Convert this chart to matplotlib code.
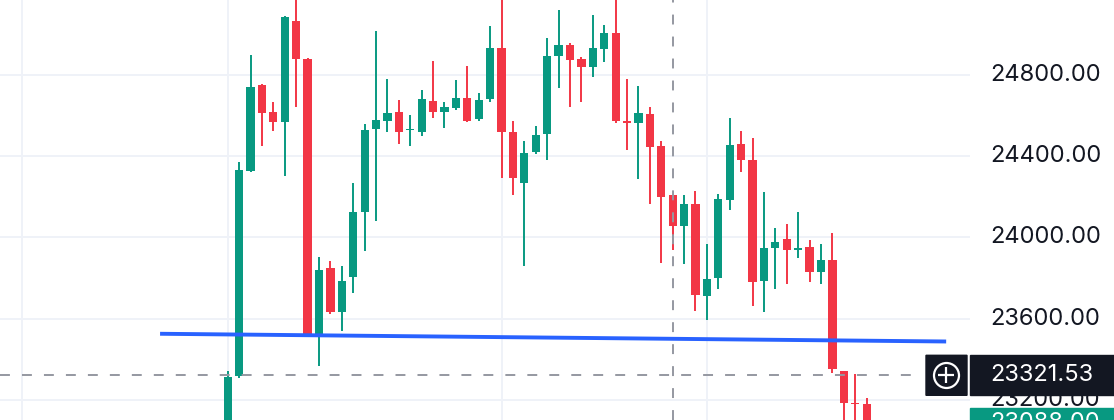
import matplotlib
matplotlib.use("Agg")
import matplotlib.pyplot as plt
import matplotlib.transforms as mtransforms
from matplotlib.patches import Rectangle, FancyBboxPatch

plt.rcParams['font.family'] = ['Inter', 'DejaVu Sans']

# candle data, one entry per bar
opens = [23080, 23320, 24327, 24751, 24616, 24570, 25066, 24877, 23520, 23848,
         23635, 23804, 24124, 24533, 24575, 24618, 24528, 24521, 24672, 24616,
         24636, 24685, 24583, 24682, 24931, 24518, 24267, 24422, 24508, 24895,
         24948, 24879, 24841, 24927, 25005, 24575, 24562, 24607, 24450, 24209,
         24058, 24165, 23714, 23802, 24185, 24459, 24382, 23786, 23947, 23991,
         23940, 23955, 23829, 23889, 23343, 23186, 23180]
highs = [23345, 24372, 24898, 24755, 24669, 25090, 25200, 24882, 23903, 23884,
         23861, 24268, 24559, 25018, 24780, 24677, 24603, 24726, 24869, 24666,
         24775, 24844, 24710, 25043, 25200, 24575, 24475, 24550, 24981, 25120,
         24959, 24887, 25095, 25046, 25200, 24780, 24746, 24644, 24475, 24209,
         24209, 24229, 23968, 24214, 24587, 24524, 24491, 24223, 24045, 24065,
         24127, 23988, 23968, 24024, 23343, 23328, 23212]
lows = [23000, 23308, 24320, 24450, 24526, 24304, 24644, 23518, 23369, 23623,
        23540, 23728, 23935, 24083, 24521, 24459, 24452, 24501, 24587, 24541,
        24630, 24570, 24575, 24669, 24291, 24209, 23861, 24411, 24382, 24737,
        24644, 24669, 24792, 24865, 24565, 24431, 24288, 24165, 23876, 23938,
        23870, 23638, 23594, 23746, 24135, 24324, 23664, 23635, 23745, 23770,
        23901, 23782, 23769, 23331, 23050, 23050, 23000]
closes = [23315, 24332, 24739, 24614, 24570, 25087, 24880, 23520, 23840, 23632,
          23786, 24126, 24529, 24578, 24611, 24521, 24532, 24680, 24616, 24641,
          24685, 24575, 24677, 24931, 24521, 24294, 24415, 24505, 24894, 24948,
          24874, 24841, 24931, 25005, 24574, 24562, 24611, 24447, 24201, 24058,
          24165, 23717, 23794, 24188, 24455, 24382, 23782, 23947, 23976, 23938,
          23943, 23832, 23889, 23351, 23184, 23180, 23088]

price_ticks = [23200, 23600, 24000, 24400, 24800, 25200]
trend_x = [-5.93, 62.97]
trend_y = [23526, 23488]
cross_idx = 39
cross_price = 23321.53
last_price = 23088.00
vgrid_idx = [-18, 0, 24, 42]

GREEN = '#089981'
RED = '#F23645'

W, H = 1114, 420
fig = plt.figure(figsize=(W / 100, H / 100), dpi=100)
axw = 970 / W
ax = fig.add_axes([0, 0, axw, 1])
ax.set_xlim(-19.96, 65.06)
ax.set_ylim(23101.5, 25169.2)
ax.axis('off')

# grid
for p in price_ticks:
    ax.axhline(p, color='#eff2f8', lw=1.4, zorder=0)
for v in vgrid_idx:
    ax.axvline(v, color='#eff2f8', lw=1.4, zorder=0)

# candles
for i in range(len(opens)):
    o, h, l, c = opens[i], highs[i], lows[i], closes[i]
    col = GREEN if c >= o else RED
    ax.vlines(i, l, h, color=col, lw=1.4, zorder=2)
    lo = min(o, c)
    hgt = max(abs(c - o), 6)
    ax.bar(i, hgt, bottom=lo, width=0.72, color=col, zorder=3, linewidth=0)

# trend line
ax.plot(trend_x, trend_y, color='#2962FF', lw=2.8, solid_capstyle='butt', zorder=4)

# crosshair
dash = (0, (5.1, 6.2))
ax.axvline(cross_idx, color='#9598a1', lw=1.4, ls=dash, zorder=5)
ax.axhline(cross_price, xmax=920 / 970, color='#9598a1', lw=1.4, ls=dash, zorder=5)

# price scale labels
tr = mtransforms.blended_transform_factory(ax.transAxes, ax.transData)
lab_x = 1 + 20 / 970
FS = 17
for p in price_ticks:
    ax.text(lab_x, p, f"{p:.2f}", transform=tr, ha='left', va='center',
            fontsize=FS, color='#131722', clip_on=False, zorder=6)

upp = (25169.2 - 23101.5) / H  # price units per pixel
right = W / 970

# crosshair price label
ax.add_patch(Rectangle((1.0, cross_price - 20 * upp), right - 1.0, 40 * upp,
                       transform=tr, color='#131722', clip_on=False, zorder=7))
ax.text(lab_x, cross_price, f"{cross_price:.2f}", transform=tr, ha='left',
        va='center', fontsize=FS, color='white', clip_on=False, zorder=8)
# plus button
ax.add_patch(FancyBboxPatch((926 / 970, cross_price - 20 * upp), 41 / 970, 40 * upp,
                            boxstyle='round,pad=0,rounding_size=0.004', transform=tr,
                            color='#131722', clip_on=False, zorder=7))
ax.plot([946 / 970], [cross_price], marker='o', ms=18, mfc='none', mec='white',
        mew=1.6, transform=tr, clip_on=False, zorder=8)
ax.plot([946 / 970], [cross_price], marker='+', ms=12, mec='white',
        mew=1.6, transform=tr, clip_on=False, zorder=8)

# last price label
ax.add_patch(Rectangle((1.0, last_price - 15 * upp), right - 1.0, 30 * upp,
                       transform=tr, color=GREEN, clip_on=False, zorder=7))
ax.text(lab_x, last_price, f"{last_price:.2f}", transform=tr, ha='left',
        va='center', fontsize=FS, color='white', clip_on=False, zorder=8)

fig.savefig('out.png', dpi=100)
